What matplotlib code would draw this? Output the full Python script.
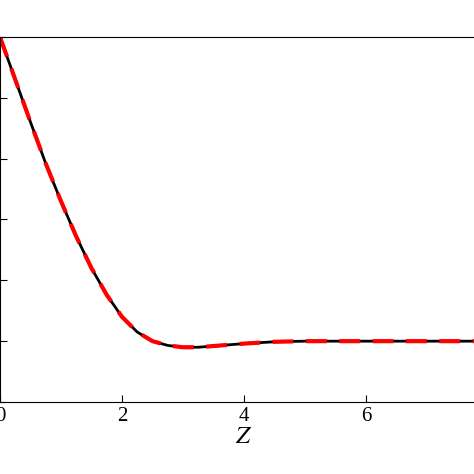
import matplotlib
matplotlib.use("Agg")
import matplotlib.pyplot as plt
import numpy as np

# curve (same curve for both series)
z = [0, 0.25, 0.5, 0.75, 1.0, 1.25, 1.5, 1.75, 2.0, 2.25, 2.5, 2.75, 3.0,
     3.25, 3.5, 4.0, 4.5, 5.0, 6.0, 7.0, 8.0]
y = [6.0, 5.3, 4.6, 3.92, 3.3, 2.72, 2.2, 1.76, 1.4, 1.15, 1.0, 0.93, 0.9,
     0.9, 0.92, 0.96, 0.99, 1.0, 1.0, 1.0, 1.0]

plt.rcParams['font.family'] = ['Liberation Serif', 'DejaVu Serif']
plt.rcParams['mathtext.fontset'] = 'stix'

fig = plt.figure(figsize=(4.74, 4.74), dpi=100)
ax = fig.add_axes([0.0, 72 / 474, 488 / 474, 365 / 474])

ax.plot(z, y, color='black', lw=2)
ax.plot(z, y, color='red', lw=3, dashes=(5, 3))

ax.set_xlim(0, 8)
ax.set_ylim(0, 6)
ax.set_xticks([0, 2, 4, 6, 8])
ax.set_xticklabels(['0', '2', '4', '6', ''])
ax.set_yticks(range(7))
ax.set_yticklabels([])
ax.tick_params(direction='in', labelsize=15, length=5)
ax.set_xlabel('$Z$', fontsize=18, labelpad=0)

fig.savefig('out.png', dpi=100)
